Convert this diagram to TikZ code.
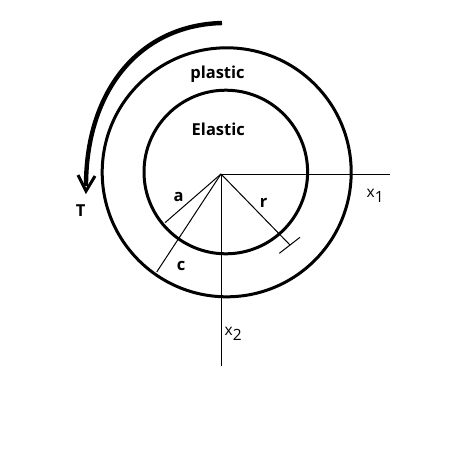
\documentclass[tikz,border=0pt]{standalone}
\usepackage{fontspec}
\setmainfont{Open Sans}
\begin{document}
\begin{tikzpicture}[x=1pt,y=-1pt,
  ring/.style={line width=3pt},
  thin/.style={line width=1pt},
  lbl/.style={font=\fontsize{16.5}{16.5}\selectfont\bfseries, inner sep=0pt},
  axlbl/.style={font=\fontsize{15.5}{15.5}\selectfont, inner sep=0pt},
  torque/.style={line width=4.4pt, line cap=butt}]
\useasboundingbox[fill=white] (0,0) rectangle (450,448);
% centres
\coordinate (O) at (221,174);
\coordinate (Ci) at (225.8,172);
\coordinate (Co) at (226.7,172.3);
% circles
\draw[ring] (Ci) circle[radius=81.8];
\draw[ring] (Co) circle[radius=124.5];
% axes
\coordinate (X1end) at (390,174);
\coordinate (X2end) at (221,366);
\draw[thin] (O) -- (X1end);
\draw[thin] (O) -- (X2end);
% radii
\coordinate (Aend) at (165,222.7);
\coordinate (Cend) at (156.7,272);
\coordinate (Rend) at (290,245);
\coordinate (T1) at (279.3,253.3);
\coordinate (T2) at (300,237.3);
\draw[thin] (O) -- (Aend);
\draw[thin] (O) -- (Cend);
\draw[thin] (O) -- (Rend);
\draw[thin] (T1) -- (T2);
% torque arrow
\coordinate (Tstart) at (222,23);
\coordinate (Tend) at (86,186);
\draw[torque] (Tstart) .. controls (140,25) and (86,90) .. (Tend);
\coordinate (H1) at (78,175);
\coordinate (Htip) at (86,191);
\coordinate (H2) at (95,176);
\draw[line width=3pt, miter limit=10] (H1) -- (Htip) -- (H2);
% labels
\node[lbl] (plastic) at (217.5,74) {plastic};
\node[lbl] (elastic) at (218.3,129) {Elastic};
\node[lbl] (la) at (178.5,197) {a};
\node[lbl] (lr) at (263.7,203) {r};
\node[lbl] (lc) at (181,266) {c};
\node[lbl, anchor=north] (lT) at (80.7,204.5) {T};
\node[axlbl, anchor=base west] (lx1) at (366.5,197.5) {x\raisebox{-5pt}{1}};
\node[axlbl, anchor=base west] (lx2) at (224.5,335) {x\raisebox{-5pt}{2}};
\end{tikzpicture}
\end{document}
